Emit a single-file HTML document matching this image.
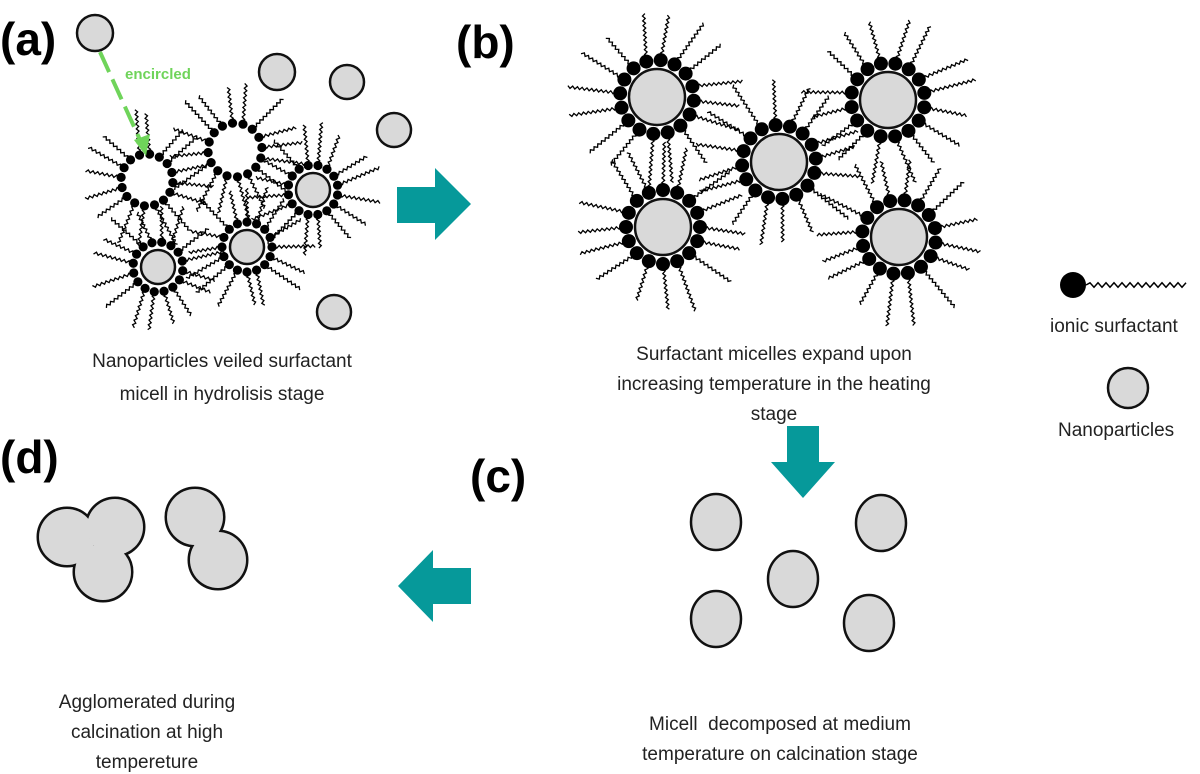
<!DOCTYPE html>
<html><head><meta charset="utf-8"><style>
html,body{margin:0;padding:0;background:#fff;width:1200px;height:774px;overflow:hidden}
svg{display:block}
.lbl{font-family:"Liberation Sans",sans-serif;font-weight:bold;font-size:46px;fill:#000}
.cap{font-family:"Liberation Sans",sans-serif;font-size:19px;fill:#222}
</style></head><body>
<svg id="s" width="1200" height="774" viewBox="0 0 1200 774" xmlns="http://www.w3.org/2000/svg">
<g id="tails" fill="none" stroke="#000" stroke-width="1.3"></g>
<g id="beads" fill="#000"></g>
<g id="parts" fill="#d9d9d9" stroke="#111" stroke-width="2.5"></g>

<g fill="#d9d9d9" stroke="#111" stroke-width="2.5">
<circle cx="95" cy="33" r="18"/><circle cx="277" cy="72" r="18"/><circle cx="347" cy="82" r="17"/>
<circle cx="394" cy="130" r="17"/><circle cx="334" cy="312" r="17"/>
<ellipse cx="716" cy="522" rx="25" ry="28"/><ellipse cx="881" cy="523" rx="25" ry="28"/>
<ellipse cx="793" cy="579" rx="25" ry="28"/><ellipse cx="716" cy="619" rx="25" ry="28"/>
<ellipse cx="869" cy="623" rx="25" ry="28"/>
<circle cx="1128" cy="388" r="20"/>
</g>
<g stroke="#111" stroke-width="3" fill="#111">
<circle cx="67" cy="537" r="29"/><circle cx="115" cy="527" r="29"/><circle cx="103" cy="572" r="29"/>
<circle cx="195" cy="517" r="29"/><circle cx="218" cy="560" r="29"/>
</g>
<g fill="#d9d9d9">
<circle cx="67" cy="537" r="28"/><circle cx="115" cy="527" r="28"/><circle cx="103" cy="572" r="28"/>
<circle cx="195" cy="517" r="28"/><circle cx="218" cy="560" r="28"/>
</g>

<circle cx="1073" cy="285" r="13" fill="#000"/>
<path id="legtail" fill="none" stroke="#000" stroke-width="1.5"/>

<polygon fill="#06999a" points="397,187 435,187 435,168 471,204 435,240 435,223 397,223"/>
<polygon fill="#06999a" points="787,426 819,426 819,462 835,462 803,498 771,462 787,462"/>
<polygon fill="#06999a" points="471,568 433,568 433,550 398,586 433,622 433,604 471,604"/>

<line x1="100" y1="52" x2="141" y2="142" stroke="#6fd45a" stroke-width="4" stroke-dasharray="22,8"/>
<polygon fill="#6fd45a" points="134,140 150,134 146,156"/>
<text x="125" y="79" font-family="Liberation Sans,sans-serif" font-weight="bold" font-size="15" fill="#6fd45a">encircled</text>

<text class="lbl" x="0" y="55">(a)</text>
<text class="lbl" x="456" y="58">(b)</text>
<text class="lbl" x="470" y="492">(c)</text>
<text class="lbl" x="0" y="473">(d)</text>

<g class="cap" text-anchor="middle">
<text x="222" y="367">Nanoparticles veiled surfactant</text>
<text x="222" y="400">micell in hydrolisis stage</text>
<text x="774" y="360">Surfactant micelles expand upon</text>
<text x="774" y="390">increasing temperature in the heating</text>
<text x="774" y="420">stage</text>
<text x="780" y="730">Micell&#160; decomposed at medium</text>
<text x="780" y="760">temperature on calcination stage</text>
<text x="147" y="708">Agglomerated during</text>
<text x="147" y="738">calcination at high</text>
<text x="147" y="768">tempereture</text>
</g>
<text class="cap" x="1050" y="332">ionic surfactant</text>
<text class="cap" x="1058" y="436">Nanoparticles</text>
</svg>
<script>
var NS="http://www.w3.org/2000/svg";
function el(g,t,a){var e=document.createElementNS(NS,t);for(var k in a)e.setAttribute(k,a[k]);document.getElementById(g).appendChild(e);return e;}
function wave(x,y,ang,len,amp,step){
  var dx=Math.cos(ang),dy=Math.sin(ang),px=-dy,py=dx,d="M"+x.toFixed(1)+" "+y.toFixed(1),s=1;
  for(var t=step;t<=len;t+=step){s=-s;d+=" L"+(x+dx*t+px*amp*s).toFixed(1)+" "+(y+dy*t+py*amp*s).toFixed(1);}
  return d;
}
var seed=7;function rnd(){seed=(seed*9301+49297)%233280;return seed/233280;}
function micelle(cx,cy,R,br,n,pr,tl,off){
  for(var i=0;i<n;i++){
    var a=off+i*2*Math.PI/n;
    var bx=cx+R*Math.cos(a),by=cy+R*Math.sin(a);
    var ta=a+(rnd()-0.5)*0.5;
    el("tails","path",{d:wave(bx,by,ta,tl*(0.85+rnd()*0.3),1.3,2.4)});
    el("beads","circle",{cx:bx,cy:by,r:br});
  }
  if(pr>0)el("parts","circle",{cx:cx,cy:cy,r:pr});
}
micelle(147,180,26,4.6,16,0,42,0.1);
micelle(235,150,27,4.6,16,0,42,0.3);
micelle(313,190,25,4.6,16,17,40,0.2);
micelle(247,247,25,4.6,16,17,40,0.0);
micelle(158,267,25,4.6,16,17,40,0.15);
micelle(657,97,37,7,16,28,48,0.1);
micelle(779,162,37,7,16,28,48,0.3);
micelle(888,100,37,7,16,28,48,0.2);
micelle(663,227,37,7,16,28,48,0.0);
micelle(899,237,37,7,16,28,48,0.15);
document.getElementById("legtail").setAttribute("d",wave(1086,285,0,102,2.2,4));
</script>
</body></html>
